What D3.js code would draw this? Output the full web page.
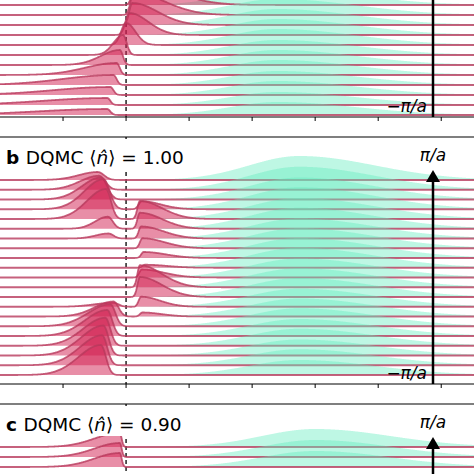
<!DOCTYPE html><html><head><meta charset="utf-8">
<script src="https://cdn.jsdelivr.net/npm/d3@7"></script>
<style>body{margin:0;background:#fff}svg{display:block}</style></head><body>
<svg id="c" width="474" height="474"></svg>
<script>
// Red peaks per row: [center ω, amplitude, left width, right width]
const aRed = [
 [[0.15,22,0.05,0.6]],[[0.12,22,0.05,0.5]],[[0.1,22,0.05,0.4]],[[0.05,22,0.06,0.3]],
 [[0.0,22,0.08,0.15]],[[-0.05,20,0.15,0.06]],[[-0.1,15,0.3,0.05]],[[-0.15,12,0.5,0.05]],
 [[-0.2,10,0.8,0.05]],[[-0.25,8,0.9,0.05]],[[-0.3,7,1.0,0.05]],[[-0.3,6,1.1,0.05]]];
const aGreen = [16,16,16,16,16,15,15,15,14,14,13,13];
const bRed = [
 [[-0.45,8,0.3,0.1]],[[-0.43,14,0.3,0.1]],[[-0.4,22,0.3,0.1]],
 [[-0.36,30,0.3,0.1],[0.25,8,0.05,0.3]],[[-0.32,30,0.3,0.08],[0.22,18,0.04,0.35]],
 [[-0.29,12,0.2,0.08],[0.22,16,0.04,0.35]],[[-0.28,5,0.2,0.08],[0.24,12,0.04,0.35]],
 [[0.26,10,0.04,0.35]],[[0.28,6,0.04,0.35]],[[0.3,3,0.04,0.35]],[[0.25,8,0.04,0.35]],
 [[0.22,22,0.04,0.35]],[[0.22,20,0.04,0.35]],[[0.24,10,0.04,0.3],[-0.2,4,0.3,0.08]],
 [[0.26,4,0.04,0.3],[-0.2,15,0.3,0.08]],[[-0.25,22,0.35,0.08]],[[-0.3,26,0.35,0.08]],
 [[-0.33,28,0.35,0.08]],[[-0.36,30,0.35,0.08]],[[-0.38,30,0.35,0.08]],[[-0.4,30,0.35,0.08]]];
const bGreen = [24,23,22,22,21,21,20,20,20,20,19,19,19,18,18,18,17,17,16,16,15];
const cRed = [[[-0.1,14,0.4,0.03]],[[-0.1,14,0.4,0.03]],[[-0.1,14,0.4,0.03]]];
const cGreen = [18,17,16];
const panels = [
 {label:"a", title:null, top:-40, bottom:117, first:5, step:10, red:aRed, green:aGreen, gc:2.4, gl:0.75, gr:1.25},
 {label:"b", title:"1.00", top:137, bottom:384, first:180, step:9.75, red:bRed, green:bGreen, gc:2.75, gl:0.8, gr:1.2},
 {label:"c", title:"0.90", top:404, bottom:520, first:447, step:10, red:cRed, green:cGreen, gc:3.0, gl:0.85, gr:1.2}];
const tickVals = [-1,0,1,2,3,4,5];

const svg = d3.select("#c");
const x = d3.scaleLinear().domain([-2,5.52]).range([0,474]);
const grid = d3.range(-2,5.6,0.01);
function redAt(peaks,w){let s=0;for(const [c,a,l,r] of peaks){const sg=w<c?l:r;s+=a*Math.exp(-0.5*((w-c)/sg)**2);}return s;}

panels.forEach((p,pi)=>{
  const g = svg.append("g");
  const cid="clip"+pi;
  svg.append("clipPath").attr("id",cid).append("rect").attr("x",-2).attr("y",p.top).attr("width",478).attr("height",p.bottom-p.top);
  const inner = g.append("g").attr("clip-path",`url(#${cid})`);
  inner.append("line").attr("x1",x(0)).attr("x2",x(0)).attr("y1",p.top).attr("y2",p.bottom)
    .attr("stroke","#000").attr("stroke-width",1.3).attr("stroke-dasharray","4,3");
  p.red.forEach((peaks,i)=>{
    const y0 = p.first + i*p.step;
    const gv = w=>p.green[i]*Math.exp(-0.5*((w-p.gc)/(w<p.gc?p.gl:p.gr))**2);
    const area = f=>d3.area().x(w=>x(w)).y0(y0).y1(w=>y0-f(w))(grid);
    inner.append("path").attr("d",area(gv)).attr("fill","rgb(100,235,190)").attr("fill-opacity",0.42);
    inner.append("path").attr("d",area(w=>redAt(peaks,w))).attr("fill","rgb(210,30,80)").attr("fill-opacity",0.5);
    inner.append("path").attr("d",d3.line().x(w=>x(w)).y(w=>y0-redAt(peaks,w))(grid))
      .attr("fill","none").attr("stroke","#b83a5c").attr("stroke-opacity",0.8).attr("stroke-width",1.8);
  });
  g.append("rect").attr("x",-1).attr("y",p.top).attr("width",476).attr("height",p.bottom-p.top)
    .attr("fill","none").attr("stroke","#000").attr("stroke-width",1);
  if(p.bottom<474){
    g.selectAll(".t").data(tickVals).enter().append("line").attr("x1",d=>x(d)).attr("x2",d=>x(d))
     .attr("y1",p.bottom).attr("y2",p.bottom+4).attr("stroke","#000").attr("stroke-width",1);
  }
  const ax = 433;
  if(pi===0){
    g.append("line").attr("x1",ax).attr("x2",ax).attr("y1",0).attr("y2",117).attr("stroke","#000").attr("stroke-width",2.5);
    g.append("text").attr("x",427).attr("y",112).attr("text-anchor","end").attr("font-family","DejaVu Sans").attr("font-style","italic").attr("font-size",17).text("−π/a");
  } else {
    const yb = pi===1?384:474, yt = p.top+33;
    g.append("line").attr("x1",ax).attr("x2",ax).attr("y1",yb).attr("y2",yt+10).attr("stroke","#000").attr("stroke-width",2.5);
    g.append("path").attr("d",`M${ax-7},${yt+12}L${ax},${yt}L${ax+7},${yt+12}Z`).attr("fill","#000");
    g.append("text").attr("x",ax).attr("y",p.top+24).attr("text-anchor","middle").attr("font-family","DejaVu Sans").attr("font-style","italic").attr("font-size",17).text("π/a");
    if(pi===1) g.append("text").attr("x",427).attr("y",379).attr("text-anchor","end").attr("font-family","DejaVu Sans").attr("font-style","italic").attr("font-size",17).text("−π/a");
    g.append("rect").attr("x",0).attr("y",p.top+2).attr("width",185).attr("height",30).attr("fill","#fff");
    const t = g.append("text").attr("x",6).attr("y",p.top+27).attr("font-family","DejaVu Sans").attr("font-size",18.5);
    t.append("tspan").attr("font-weight","bold").text(p.label+" ");
    t.append("tspan").text("DQMC ⟨");
    t.append("tspan").attr("font-style","italic").text("n̂");
    t.append("tspan").text("⟩ = "+p.title);
  }
});
</script></body></html>
